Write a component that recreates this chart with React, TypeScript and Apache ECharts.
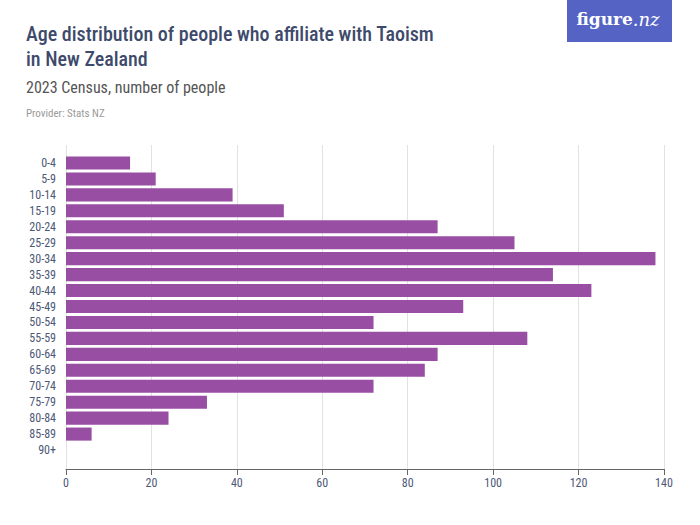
import React, { useEffect, useRef } from "react";
import * as echarts from "echarts";

const ageGroups = [
  "0-4", "5-9", "10-14", "15-19", "20-24", "25-29", "30-34", "35-39", "40-44",
  "45-49", "50-54", "55-59", "60-64", "65-69", "70-74", "75-79", "80-84", "85-89", "90+",
];
const people = [15, 21, 39, 51, 87, 105, 138, 114, 123, 93, 72, 108, 87, 84, 72, 33, 24, 6, 0];
const xTicks = [0, 20, 40, 60, 80, 100, 120, 140];

const TITLE = "Age distribution of people who affiliate with Taoism\nin New Zealand";
const SUBTITLE = "2023 Census, number of people";
const PROVIDER = "Provider: Stats NZ";

const BAR = "#984ea3";
const INK = "#3e4a6b";
const AXIS_TEXT = "#4d5878";
const NARROW = "'Liberation Sans Narrow', 'Roboto Condensed', Roboto, sans-serif";

export default function App() {
  const ref = useRef<HTMLDivElement>(null);

  useEffect(() => {
    if (!ref.current) return;
    const chart = echarts.init(ref.current, null, { renderer: "svg" });
    const xMin = xTicks[0];
    const xMax = xTicks[xTicks.length - 1];
    const step = xTicks[1] - xTicks[0];

    chart.setOption({
      animation: false,
      backgroundColor: "#ffffff",
      title: [
        {
          text: TITLE,
          left: 21,
          top: 16,
          textStyle: { fontFamily: NARROW, fontSize: 20, fontWeight: 500, color: INK, lineHeight: 25 },
        },
        {
          text: SUBTITLE,
          left: 21,
          top: 74,
          textStyle: { fontFamily: NARROW, fontSize: 16, fontWeight: 400, color: "#555555" },
        },
        {
          text: PROVIDER,
          left: 21,
          top: 103,
          textStyle: { fontFamily: NARROW, fontSize: 11, fontWeight: 400, color: "#999999" },
        },
      ],
      graphic: [
        {
          type: "group",
          right: 28,
          top: 0,
          children: [
            { type: "rect", shape: { x: 0, y: 0, width: 105, height: 42 }, style: { fill: "#5563c5" } },
            {
              type: "text",
              x: 51,
              y: 19,
              style: {
                text: "{a|figure}{b|.nz}",
                align: "center",
                verticalAlign: "middle",
                rich: {
                  a: { fontFamily: "'DejaVu Serif', serif", fontSize: 17, fontWeight: "bold", fill: "#ffffff" },
                  b: { fontFamily: "'DejaVu Serif', serif", fontSize: 18, fontStyle: "italic", fill: "#ffffff" },
                },
              },
            },
          ],
        },
      ],
      grid: [
        // frame grid: gridlines and value axis
        { left: 66, right: 36, top: 145, bottom: 56, containLabel: false },
        // bar grid
        { left: 66, right: 36, top: 155, bottom: 67, containLabel: false },
      ],
      xAxis: [
        {
          type: "value",
          gridIndex: 0,
          min: xMin,
          max: xMax,
          interval: step,
          axisLine: { show: true, lineStyle: { color: "#666666", width: 1 } },
          axisTick: { show: true, length: 6, lineStyle: { color: "#666666" } },
          axisLabel: { color: AXIS_TEXT, fontSize: 12, fontFamily: NARROW, margin: 8 },
          splitLine: { show: true, lineStyle: { color: "#e2e2e2", width: 1 } },
        },
        {
          type: "value",
          gridIndex: 1,
          min: xMin,
          max: xMax,
          interval: step,
          show: false,
        },
      ],
      yAxis: [
        {
          type: "category",
          gridIndex: 0,
          data: ageGroups,
          show: false,
        },
        {
          type: "category",
          gridIndex: 1,
          data: ageGroups,
          inverse: true,
          axisLine: { show: false },
          axisTick: { show: false },
          axisLabel: { color: AXIS_TEXT, fontSize: 12, fontFamily: NARROW, margin: 10 },
          splitLine: { show: false },
        },
      ],
      series: [
        {
          type: "bar",
          xAxisIndex: 1,
          yAxisIndex: 1,
          data: people,
          barCategoryGap: "18%",
          itemStyle: { color: BAR },
        },
      ],
    });

    return () => chart.dispose();
  }, []);

  return (
    <div
      ref={ref}
      style={{ position: "absolute", left: 0, top: 0, width: 700, height: 525 }}
    />
  );
}
